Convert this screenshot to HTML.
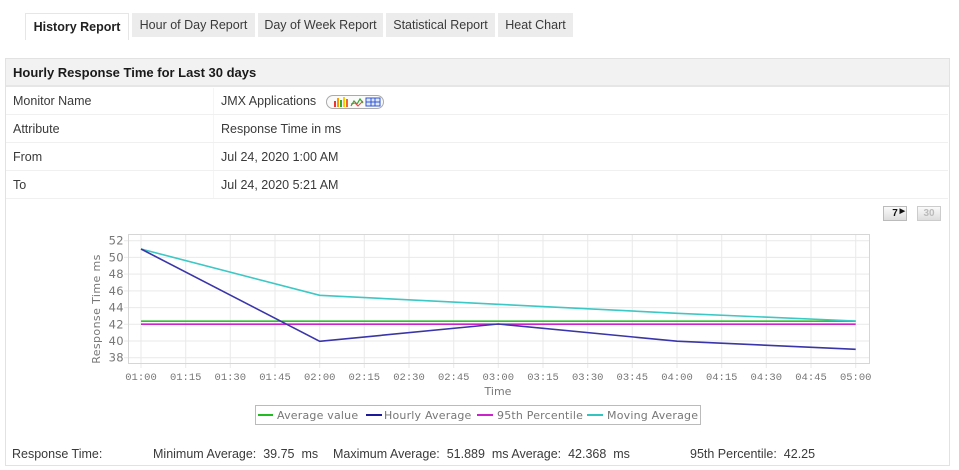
<!DOCTYPE html>
<html><head><meta charset="utf-8"><style>
*{margin:0;padding:0;box-sizing:border-box}
body{width:959px;height:470px;background:#fff;position:relative;overflow:hidden;font-family:"Liberation Sans",sans-serif;color:#3a3a3a;font-size:12.5px}
.a{position:absolute;white-space:nowrap}
.tab{position:absolute;top:13px;height:24px;background:#ececec;line-height:24px;text-align:center;font-size:12.5px;color:#3a3a3a}
.tab.act{background:#fff;border:1px solid #e6e6e6;border-bottom:none;height:27px;font-weight:bold;color:#222;line-height:26px}
.row{position:absolute;left:6px;width:942px;height:28px;border-bottom:1px solid #f0f0f0;line-height:28px}
.row .l{position:absolute;left:7px}
.row .v{position:absolute;left:215px}
.btn{position:absolute;top:206px;width:24px;height:15px;border:1px solid #bbb;background:linear-gradient(#fafafa,#ddd);font-size:10px;font-weight:bold;text-align:center;line-height:13px}
</style></head><body>
<div class="tab act" style="left:25px;width:104px">History Report</div>
<div class="tab" style="left:132px;width:123px">Hour of Day Report</div>
<div class="tab" style="left:258px;width:125px">Day of Week Report</div>
<div class="tab" style="left:386px;width:109px">Statistical Report</div>
<div class="tab" style="left:498px;width:75px">Heat Chart</div>

<div class="a" style="left:5px;top:58px;width:945px;height:408px;border:1px solid #e2e2e2"></div>
<div class="a" style="left:6px;top:59px;width:943px;height:28px;background:#f2f2f2;border-bottom:2px solid #e6e6e6"></div>
<div class="a" style="left:13px;top:59px;line-height:28px;font-weight:bold;font-size:13px;color:#1a1a1a">Hourly Response Time for Last 30 days</div>

<div class="a" style="left:213px;top:88px;width:1px;height:111px;background:#f5f5f5"></div>
<div class="row" style="top:87px"><span class="l">Monitor Name</span><span class="v">JMX Applications</span></div>
<div class="row" style="top:115px"><span class="l">Attribute</span><span class="v">Response Time in ms</span></div>
<div class="row" style="top:143px"><span class="l">From</span><span class="v">Jul 24, 2020 1:00 AM</span></div>
<div class="row" style="top:171px"><span class="l">To</span><span class="v">Jul 24, 2020 5:21 AM</span></div>

<svg class="a" style="left:326px;top:95px" width="58" height="14" viewBox="0 0 58 14">
<rect x="0.5" y="0.5" width="57" height="13" rx="6.5" fill="#fafafa" stroke="#aaa"/>
<rect x="8" y="6" width="2" height="6" fill="#e33"/><rect x="11" y="3" width="2" height="9" fill="#f90"/><rect x="14" y="5" width="2" height="7" fill="#3a3"/><rect x="17" y="2" width="2" height="10" fill="#fc0"/><rect x="20" y="4" width="2" height="8" fill="#e63"/>
<polyline points="25,11 28,6 31,9 34,4 37,8" fill="none" stroke="#3a3" stroke-width="1.2"/><polyline points="25,9 29,8 32,11 37,6" fill="none" stroke="#e44" stroke-width="1"/>
<rect x="40" y="3" width="14" height="8" fill="#dde8ff" stroke="#35c"/><line x1="40" y1="7" x2="54" y2="7" stroke="#35c"/><line x1="45" y1="3" x2="45" y2="11" stroke="#35c"/><line x1="49" y1="3" x2="49" y2="11" stroke="#35c"/>
</svg>

<div class="btn" style="left:883px;color:#111">7<span style="position:absolute;right:1px;top:-2px;font-size:7px">&#9654;</span></div>
<div class="btn" style="left:917px;color:#bbb;border-color:#ccc">30</div>

<svg class="a" style="left:0;top:0" width="959" height="470">
<g stroke="#e9e9e9" stroke-width="1">
<line x1="141" y1="234" x2="141" y2="368"/><line x1="185.7" y1="234" x2="185.7" y2="368"/><line x1="230.3" y1="234" x2="230.3" y2="368"/><line x1="275" y1="234" x2="275" y2="368"/><line x1="319.7" y1="234" x2="319.7" y2="368"/><line x1="364.3" y1="234" x2="364.3" y2="368"/><line x1="409" y1="234" x2="409" y2="368"/><line x1="453.7" y1="234" x2="453.7" y2="368"/><line x1="498.3" y1="234" x2="498.3" y2="368"/><line x1="543" y1="234" x2="543" y2="368"/><line x1="587.7" y1="234" x2="587.7" y2="368"/><line x1="632.3" y1="234" x2="632.3" y2="368"/><line x1="677" y1="234" x2="677" y2="368"/><line x1="721.7" y1="234" x2="721.7" y2="368"/><line x1="766.3" y1="234" x2="766.3" y2="368"/><line x1="811" y1="234" x2="811" y2="368"/><line x1="855.7" y1="234" x2="855.7" y2="368"/>
<line x1="124" y1="240.7" x2="870" y2="240.7"/><line x1="124" y1="257.4" x2="870" y2="257.4"/><line x1="124" y1="274.1" x2="870" y2="274.1"/><line x1="124" y1="290.9" x2="870" y2="290.9"/><line x1="124" y1="307.6" x2="870" y2="307.6"/><line x1="124" y1="324.3" x2="870" y2="324.3"/><line x1="124" y1="341" x2="870" y2="341"/><line x1="124" y1="357.7" x2="870" y2="357.7"/>
</g>
<rect x="128.5" y="234.5" width="741" height="129" fill="none" stroke="#d6d6d6"/>
<line x1="141" y1="321.2" x2="855.7" y2="321.2" stroke="#2fbf2f" stroke-width="1.6"/>
<line x1="141" y1="324.2" x2="855.7" y2="324.2" stroke="#cc22cc" stroke-width="1.6"/>
<polyline points="141,249 319.7,295.3 498.3,304.3 677,313.3 855.7,321" fill="none" stroke="#3cc8c4" stroke-width="1.6"/>
<polyline points="141,249 319.7,341.3 498.3,324 677,341.2 855.7,349.3" fill="none" stroke="#3a35a8" stroke-width="1.6"/>
<g font-family="DejaVu Sans, sans-serif" font-size="11.5" fill="#777" text-anchor="end" letter-spacing="0.4">
<text x="124" y="244.7">52</text><text x="124" y="261.4">50</text><text x="124" y="278.1">48</text><text x="124" y="294.9">46</text><text x="124" y="311.6">44</text><text x="124" y="328.3">42</text><text x="124" y="345">40</text><text x="124" y="361.7">38</text>
</g>
<g font-family="Liberation Mono, monospace" font-size="10.5" fill="#777" text-anchor="middle">
<text x="141" y="380">01:00</text><text x="185.7" y="380">01:15</text><text x="230.3" y="380">01:30</text><text x="275" y="380">01:45</text><text x="319.7" y="380">02:00</text><text x="364.3" y="380">02:15</text><text x="409" y="380">02:30</text><text x="453.7" y="380">02:45</text><text x="498.3" y="380">03:00</text><text x="543" y="380">03:15</text><text x="587.7" y="380">03:30</text><text x="632.3" y="380">03:45</text><text x="677" y="380">04:00</text><text x="721.7" y="380">04:15</text><text x="766.3" y="380">04:30</text><text x="811" y="380">04:45</text><text x="855.7" y="380">05:00</text>
</g>
<text x="498" y="395" font-family="DejaVu Sans, sans-serif" font-size="11" fill="#777" text-anchor="middle">Time</text>
<text transform="translate(100,309) rotate(-90)" font-family="DejaVu Sans, sans-serif" font-size="11" fill="#777" text-anchor="middle" letter-spacing="0.4">Response Time ms</text>
<rect x="255.5" y="405.5" width="445" height="19" fill="#fff" stroke="#bbb"/>
<g stroke-width="2"><line x1="258" y1="415" x2="273" y2="415" stroke="#22bb22"/><line x1="366" y1="415" x2="382" y2="415" stroke="#1a1a9a"/><line x1="477" y1="415" x2="493" y2="415" stroke="#cc22cc"/><line x1="587" y1="415" x2="603" y2="415" stroke="#33c4c0"/></g>
<g font-family="DejaVu Sans, sans-serif" font-size="11" fill="#777" letter-spacing="0.2">
<text x="277" y="419">Average value</text><text x="384" y="419">Hourly Average</text><text x="497" y="419">95th Percentile</text><text x="607" y="419">Moving Average</text>
</g>
</svg>

<div class="a" style="left:12px;top:447px">Response Time:</div>
<div class="a" style="left:153px;top:447px">Minimum Average:&nbsp; 39.75&nbsp; ms</div>
<div class="a" style="left:333px;top:447px">Maximum Average:&nbsp; 51.889&nbsp; ms Average:&nbsp; 42.368&nbsp; ms</div>
<div class="a" style="left:690px;top:447px">95th Percentile:&nbsp; 42.25</div>
</body></html>
